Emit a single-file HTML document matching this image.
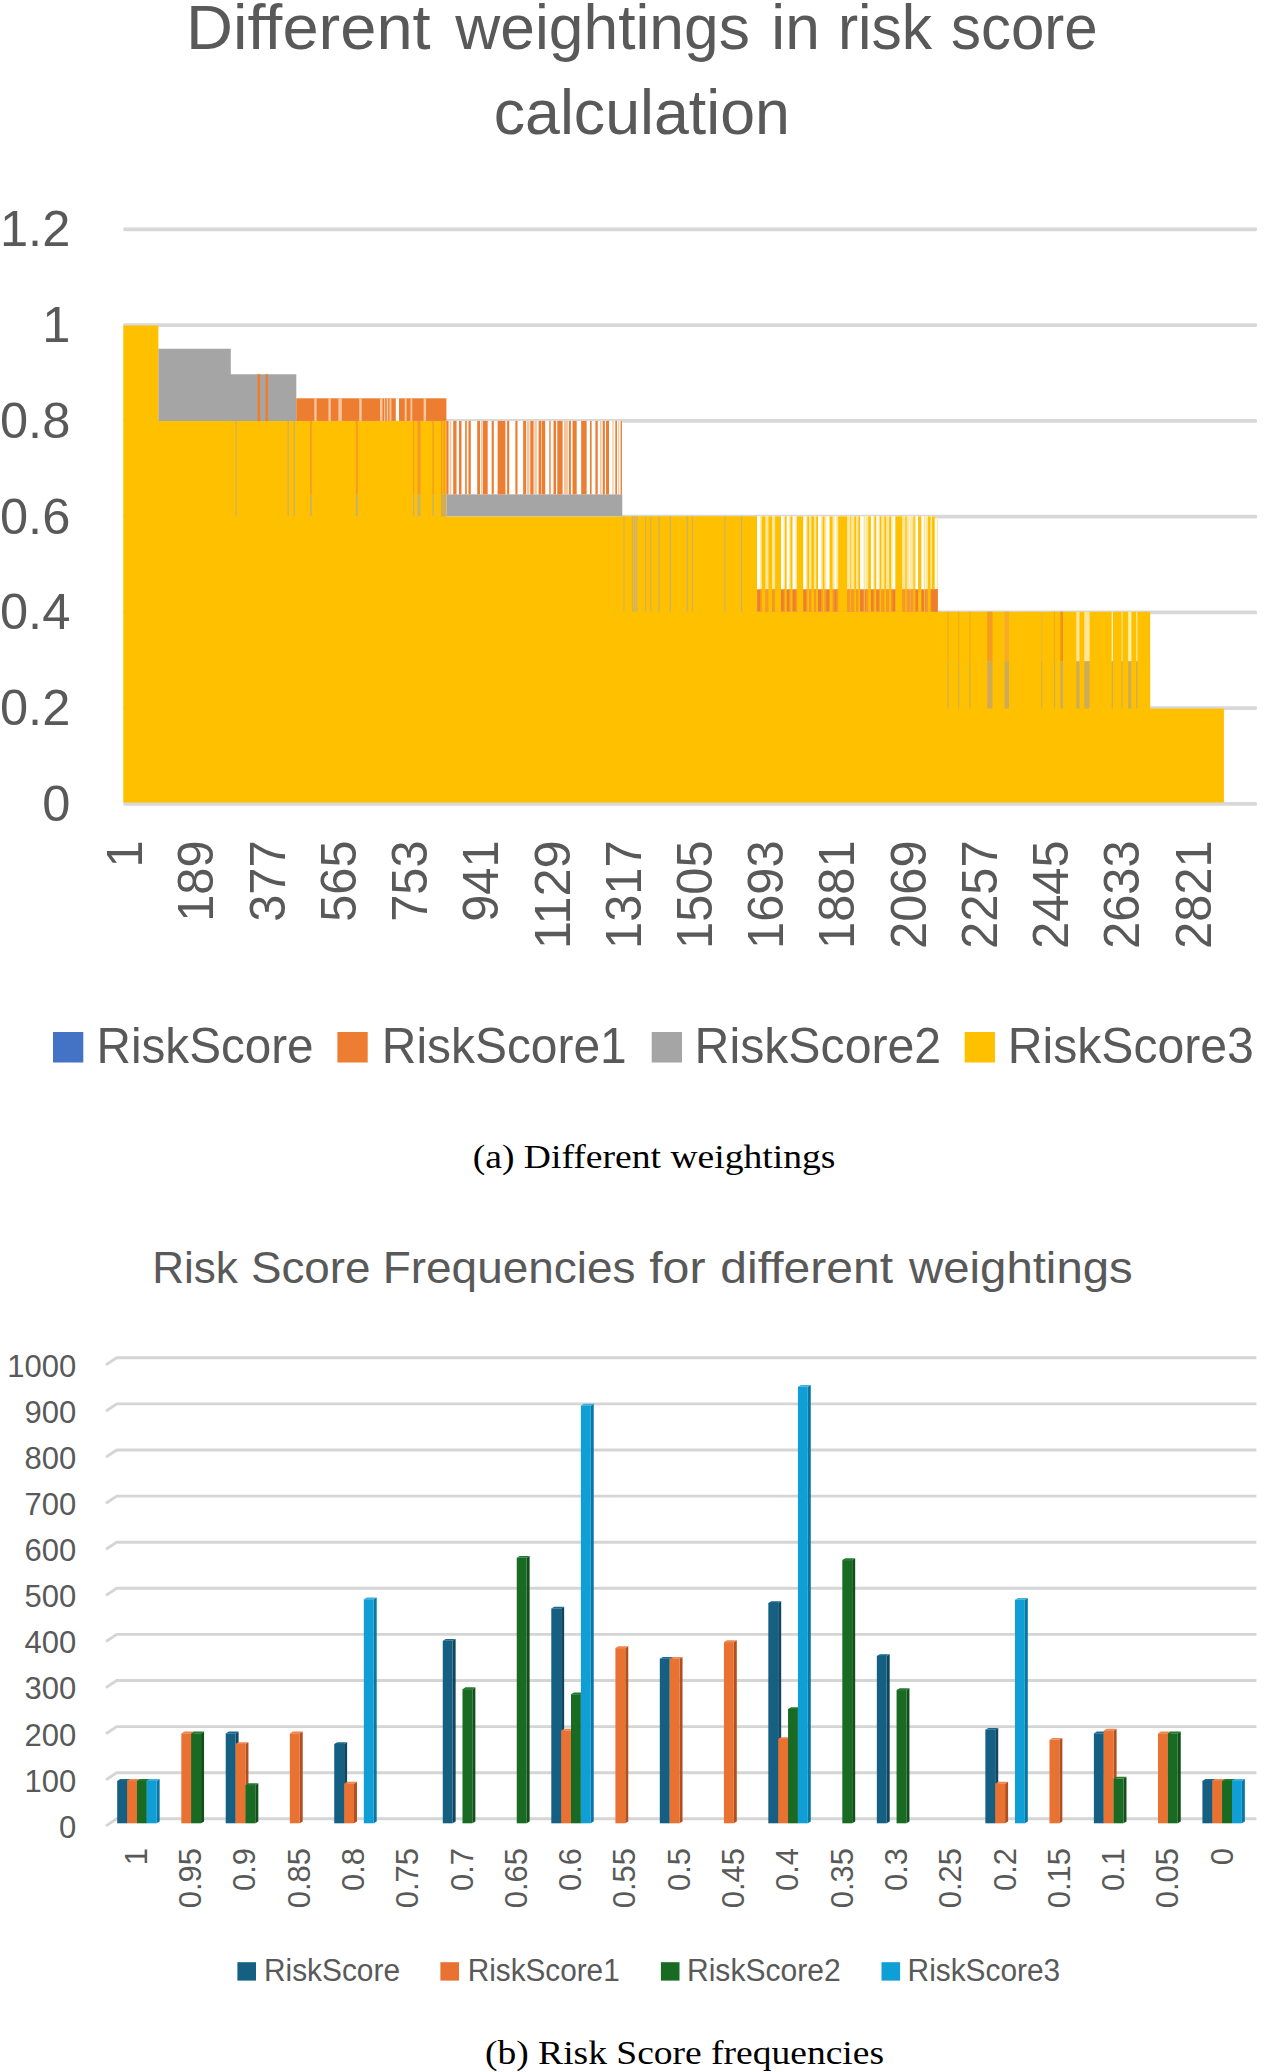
<!DOCTYPE html>
<html lang="en"><head><meta charset="utf-8"><title>Risk score weightings</title>
<style>html,body{margin:0;padding:0;background:#fff}body{width:1267px;height:2072px;overflow:hidden}svg{display:block}.c{font-family:"Liberation Sans",sans-serif;fill:#595959;font-variant-ligatures:none}.s{font-family:"Liberation Serif",serif;fill:#000}</style></head><body>
<svg width="1267" height="2072" viewBox="0 0 1267 2072">
<rect width="1267" height="2072" fill="#fff"/>
<text class="c" x="186.0" y="49.3" font-size="63.8" textLength="244.7" lengthAdjust="spacingAndGlyphs">Different</text>
<text class="c" x="455.3" y="49.3" font-size="63.8" textLength="294.5" lengthAdjust="spacingAndGlyphs">weightings</text>
<text class="c" x="771.3" y="49.3" font-size="63.8" textLength="48.5" lengthAdjust="spacingAndGlyphs">in</text>
<text class="c" x="837.9" y="49.3" font-size="63.8" textLength="94.2" lengthAdjust="spacingAndGlyphs">risk</text>
<text class="c" x="951.0" y="49.3" font-size="63.8" textLength="146.7" lengthAdjust="spacingAndGlyphs">score</text>
<text class="c" x="493.7" y="134.0" font-size="63.8" textLength="296.2" lengthAdjust="spacingAndGlyphs">calculation</text>
<rect x="123.3" y="801.90" width="1133.7" height="3.8" rx="1.2" fill="#d8d8d8"/>
<rect x="123.3" y="706.15" width="1133.7" height="3.8" rx="1.2" fill="#d8d8d8"/>
<rect x="123.3" y="610.40" width="1133.7" height="3.8" rx="1.2" fill="#d8d8d8"/>
<rect x="123.3" y="514.65" width="1133.7" height="3.8" rx="1.2" fill="#d8d8d8"/>
<rect x="123.3" y="418.90" width="1133.7" height="3.8" rx="1.2" fill="#d8d8d8"/>
<rect x="123.3" y="323.15" width="1133.7" height="3.8" rx="1.2" fill="#d8d8d8"/>
<rect x="123.3" y="227.40" width="1133.7" height="3.8" rx="1.2" fill="#d8d8d8"/>
<text class="c" x="70.3" y="246.3" font-size="50.6" text-anchor="end">1.2</text>
<text class="c" x="70.3" y="342.0" font-size="50.6" text-anchor="end">1</text>
<text class="c" x="70.3" y="437.8" font-size="50.6" text-anchor="end">0.8</text>
<text class="c" x="70.3" y="533.5" font-size="50.6" text-anchor="end">0.6</text>
<text class="c" x="70.3" y="629.3" font-size="50.6" text-anchor="end">0.4</text>
<text class="c" x="70.3" y="725.0" font-size="50.6" text-anchor="end">0.2</text>
<text class="c" x="70.3" y="820.8" font-size="50.6" text-anchor="end">0</text>
<path d="M123.3 802.5 V325.5 H158.4 V420.9 H446.4 V516.3 H757.1 V611.7 H1150.2 V708.4 H1223.9 V802.5 Z" fill="#ffc000"/>
<path d="M158.4 420.90 V348.87 H230.8 V374.15 H296.3 V420.90 Z" fill="#a5a5a5"/>
<rect x="257.50" y="374.15" width="2.70" height="46.75" fill="#ed7d31"/>
<rect x="265.50" y="374.15" width="2.50" height="46.75" fill="#ed7d31"/>
<rect x="296.30" y="398.29" width="150.10" height="22.61" fill="#ed7d31"/>
<rect x="314.30" y="398.29" width="2.30" height="22.61" fill="#f6c79f"/>
<rect x="328.40" y="398.29" width="2.40" height="22.61" fill="#f6c79f"/>
<rect x="338.40" y="398.29" width="3.40" height="22.61" fill="#f6c79f"/>
<rect x="359.20" y="398.29" width="2.50" height="22.61" fill="#f6c79f"/>
<rect x="380.00" y="398.29" width="2.50" height="22.61" fill="#f6c79f"/>
<rect x="384.00" y="398.29" width="1.20" height="22.61" fill="#f6c79f"/>
<rect x="386.70" y="398.29" width="1.50" height="22.61" fill="#f6c79f"/>
<rect x="389.50" y="398.29" width="1.90" height="22.61" fill="#f6c79f"/>
<rect x="395.80" y="398.29" width="3.20" height="22.61" fill="#ffffff"/>
<rect x="404.70" y="398.29" width="1.90" height="22.61" fill="#f6c79f"/>
<rect x="410.40" y="398.29" width="1.90" height="22.61" fill="#f6c79f"/>
<rect x="423.60" y="398.29" width="2.50" height="22.61" fill="#f6c79f"/>
<rect x="235.50" y="420.90" width="1.20" height="95.40" fill="#c9b070"/>
<rect x="287.55" y="420.90" width="1.30" height="95.40" fill="#c9b070"/>
<rect x="293.65" y="420.90" width="1.30" height="95.40" fill="#c9b070"/>
<rect x="310.10" y="420.90" width="1.60" height="73.46" fill="#f59a28"/>
<rect x="310.10" y="494.36" width="1.60" height="21.94" fill="#c9b070"/>
<rect x="355.80" y="420.90" width="2.00" height="73.46" fill="#f59a28"/>
<rect x="355.80" y="494.36" width="2.00" height="21.94" fill="#c9b070"/>
<rect x="413.00" y="420.90" width="1.20" height="73.46" fill="#f59a28"/>
<rect x="413.00" y="494.36" width="1.20" height="21.94" fill="#c9b070"/>
<rect x="417.50" y="420.90" width="3.00" height="73.46" fill="#f59a28"/>
<rect x="417.50" y="494.36" width="3.00" height="21.94" fill="#c9b070"/>
<rect x="432.40" y="420.90" width="1.40" height="73.46" fill="#f59a28"/>
<rect x="432.40" y="494.36" width="1.40" height="21.94" fill="#c9b070"/>
<rect x="440.85" y="420.90" width="1.50" height="73.46" fill="#f59a28"/>
<rect x="440.85" y="494.36" width="1.50" height="21.94" fill="#c9b070"/>
<rect x="443.45" y="420.90" width="1.50" height="73.46" fill="#f59a28"/>
<rect x="443.45" y="494.36" width="1.50" height="21.94" fill="#c9b070"/>
<rect x="446.40" y="420.90" width="175.90" height="95.40" fill="#ffffff"/>
<rect x="446.40" y="494.36" width="175.90" height="21.94" fill="#a5a5a5"/>
<rect x="441.00" y="494.36" width="5.40" height="21.94" fill="#d2ad55"/>
<rect x="446.24" y="420.90" width="2.32" height="73.46" fill="#ed7d31"/>
<rect x="449.56" y="420.90" width="1.66" height="73.46" fill="#f6c79f"/>
<rect x="453.21" y="420.90" width="3.32" height="73.46" fill="#ed7d31"/>
<rect x="459.01" y="420.90" width="2.49" height="73.46" fill="#ed7d31"/>
<rect x="465.14" y="420.90" width="1.66" height="73.46" fill="#ed7d31"/>
<rect x="468.46" y="420.90" width="2.32" height="73.46" fill="#ed7d31"/>
<rect x="477.24" y="420.90" width="2.82" height="73.46" fill="#ed7d31"/>
<rect x="481.05" y="420.90" width="0.99" height="73.46" fill="#f6c79f"/>
<rect x="482.71" y="420.90" width="4.97" height="73.46" fill="#ed7d31"/>
<rect x="491.66" y="420.90" width="2.15" height="73.46" fill="#ed7d31"/>
<rect x="497.63" y="420.90" width="7.79" height="73.46" fill="#ed7d31"/>
<rect x="507.08" y="420.90" width="2.15" height="73.46" fill="#ed7d31"/>
<rect x="515.36" y="420.90" width="2.15" height="73.46" fill="#ed7d31"/>
<rect x="523.15" y="420.90" width="2.98" height="73.46" fill="#ed7d31"/>
<rect x="526.97" y="420.90" width="2.49" height="73.46" fill="#f6c79f"/>
<rect x="530.28" y="420.90" width="3.32" height="73.46" fill="#ed7d31"/>
<rect x="534.43" y="420.90" width="2.49" height="73.46" fill="#f6c79f"/>
<rect x="538.57" y="420.90" width="2.82" height="73.46" fill="#ed7d31"/>
<rect x="541.88" y="420.90" width="3.32" height="73.46" fill="#ed7d31"/>
<rect x="549.34" y="420.90" width="1.33" height="73.46" fill="#ed7d31"/>
<rect x="553.49" y="420.90" width="2.49" height="73.46" fill="#ed7d31"/>
<rect x="557.30" y="420.90" width="5.30" height="73.46" fill="#ed7d31"/>
<rect x="563.93" y="420.90" width="3.98" height="73.46" fill="#f6c79f"/>
<rect x="568.90" y="420.90" width="1.99" height="73.46" fill="#ed7d31"/>
<rect x="572.55" y="420.90" width="4.14" height="73.46" fill="#ed7d31"/>
<rect x="581.17" y="420.90" width="5.47" height="73.46" fill="#ed7d31"/>
<rect x="589.95" y="420.90" width="1.66" height="73.46" fill="#ed7d31"/>
<rect x="595.42" y="420.90" width="2.32" height="73.46" fill="#ed7d31"/>
<rect x="599.90" y="420.90" width="1.66" height="73.46" fill="#f6c79f"/>
<rect x="602.72" y="420.90" width="2.15" height="73.46" fill="#ed7d31"/>
<rect x="606.03" y="420.90" width="2.98" height="73.46" fill="#ed7d31"/>
<rect x="612.33" y="420.90" width="1.33" height="73.46" fill="#f6c79f"/>
<rect x="615.31" y="420.90" width="1.66" height="73.46" fill="#ed7d31"/>
<rect x="618.13" y="420.90" width="1.16" height="73.46" fill="#f6c79f"/>
<rect x="620.62" y="420.90" width="1.33" height="73.46" fill="#ed7d31"/>
<rect x="623.46" y="516.30" width="1.00" height="95.40" fill="#c9b070"/>
<rect x="631.84" y="516.30" width="1.40" height="95.40" fill="#c9b070"/>
<rect x="633.99" y="516.30" width="1.40" height="95.40" fill="#c9b070"/>
<rect x="636.29" y="516.30" width="1.10" height="95.40" fill="#c9b070"/>
<rect x="644.88" y="516.30" width="1.10" height="95.40" fill="#c9b070"/>
<rect x="650.24" y="516.30" width="1.10" height="95.40" fill="#c9b070"/>
<rect x="658.51" y="516.30" width="1.20" height="95.40" fill="#c9b070"/>
<rect x="669.79" y="516.30" width="1.20" height="95.40" fill="#c9b070"/>
<rect x="686.69" y="516.30" width="1.20" height="95.40" fill="#c9b070"/>
<rect x="691.84" y="516.30" width="1.10" height="95.40" fill="#c9b070"/>
<rect x="724.32" y="516.30" width="1.10" height="95.40" fill="#c9b070"/>
<rect x="740.91" y="516.30" width="1.20" height="95.40" fill="#c9b070"/>
<rect x="757.10" y="516.30" width="177.60" height="72.98" fill="#ffffff"/>
<rect x="757.10" y="589.28" width="180.90" height="22.42" fill="#ed7d31"/>
<rect x="760.12" y="516.30" width="1.52" height="72.98" fill="#ffe699"/>
<rect x="760.12" y="589.28" width="1.52" height="22.42" fill="#f59a28"/>
<rect x="761.64" y="516.30" width="4.03" height="95.40" fill="#ffc000"/>
<rect x="765.66" y="516.30" width="2.68" height="72.98" fill="#ffe699"/>
<rect x="765.66" y="589.28" width="2.68" height="22.42" fill="#f59a28"/>
<rect x="768.35" y="516.30" width="4.03" height="95.40" fill="#ffc000"/>
<rect x="772.37" y="516.30" width="2.68" height="72.98" fill="#ffe699"/>
<rect x="772.37" y="589.28" width="2.68" height="22.42" fill="#f59a28"/>
<rect x="775.06" y="516.30" width="5.90" height="95.40" fill="#ffc000"/>
<rect x="783.64" y="516.30" width="1.34" height="72.98" fill="#ffe699"/>
<rect x="783.64" y="589.28" width="1.34" height="22.42" fill="#f59a28"/>
<rect x="784.99" y="516.30" width="1.61" height="95.40" fill="#ffc000"/>
<rect x="789.10" y="516.30" width="1.25" height="72.98" fill="#ffe699"/>
<rect x="789.10" y="589.28" width="1.25" height="22.42" fill="#f59a28"/>
<rect x="790.35" y="516.30" width="2.15" height="95.40" fill="#ffc000"/>
<rect x="795.54" y="516.30" width="1.52" height="72.98" fill="#ffe699"/>
<rect x="795.54" y="589.28" width="1.52" height="22.42" fill="#f59a28"/>
<rect x="797.06" y="516.30" width="6.17" height="95.40" fill="#ffc000"/>
<rect x="805.92" y="516.30" width="1.34" height="72.98" fill="#ffe699"/>
<rect x="805.92" y="589.28" width="1.34" height="22.42" fill="#f59a28"/>
<rect x="807.26" y="516.30" width="1.88" height="95.40" fill="#ffc000"/>
<rect x="809.14" y="516.30" width="2.15" height="72.98" fill="#ffe699"/>
<rect x="809.14" y="589.28" width="2.15" height="22.42" fill="#f59a28"/>
<rect x="811.29" y="516.30" width="2.68" height="95.40" fill="#ffc000"/>
<rect x="813.97" y="516.30" width="2.15" height="72.98" fill="#ffe699"/>
<rect x="813.97" y="589.28" width="2.15" height="22.42" fill="#f59a28"/>
<rect x="816.12" y="516.30" width="1.88" height="95.40" fill="#ffc000"/>
<rect x="821.04" y="516.30" width="1.52" height="72.98" fill="#ffe699"/>
<rect x="821.04" y="589.28" width="1.52" height="22.42" fill="#f59a28"/>
<rect x="822.56" y="516.30" width="2.15" height="95.40" fill="#ffc000"/>
<rect x="824.71" y="516.30" width="1.61" height="72.98" fill="#ffe699"/>
<rect x="824.71" y="589.28" width="1.61" height="22.42" fill="#f59a28"/>
<rect x="829.54" y="516.30" width="3.22" height="95.40" fill="#ffc000"/>
<rect x="832.76" y="516.30" width="1.79" height="72.98" fill="#ffe699"/>
<rect x="832.76" y="589.28" width="1.79" height="22.42" fill="#f59a28"/>
<rect x="836.34" y="516.30" width="1.79" height="72.98" fill="#ffe699"/>
<rect x="836.34" y="589.28" width="1.79" height="22.42" fill="#f59a28"/>
<rect x="838.13" y="516.30" width="9.39" height="95.40" fill="#ffc000"/>
<rect x="847.52" y="516.30" width="2.68" height="72.98" fill="#ffe699"/>
<rect x="847.52" y="589.28" width="2.68" height="22.42" fill="#f59a28"/>
<rect x="850.20" y="516.30" width="1.34" height="95.40" fill="#ffc000"/>
<rect x="851.55" y="516.30" width="2.68" height="72.98" fill="#ffe699"/>
<rect x="851.55" y="589.28" width="2.68" height="22.42" fill="#f59a28"/>
<rect x="854.23" y="516.30" width="2.15" height="95.40" fill="#ffc000"/>
<rect x="856.38" y="516.30" width="1.88" height="72.98" fill="#ffe699"/>
<rect x="856.38" y="589.28" width="1.88" height="22.42" fill="#f59a28"/>
<rect x="858.26" y="516.30" width="1.88" height="95.40" fill="#ffc000"/>
<rect x="865.50" y="516.30" width="2.68" height="72.98" fill="#ffe699"/>
<rect x="865.50" y="589.28" width="2.68" height="22.42" fill="#f59a28"/>
<rect x="863.76" y="516.30" width="0.81" height="95.40" fill="#ffd24d"/>
<rect x="868.19" y="516.30" width="2.68" height="95.40" fill="#ffc000"/>
<rect x="873.20" y="516.30" width="1.16" height="72.98" fill="#ffe699"/>
<rect x="873.20" y="589.28" width="1.16" height="22.42" fill="#f59a28"/>
<rect x="874.36" y="516.30" width="1.88" height="95.40" fill="#ffc000"/>
<rect x="878.56" y="516.30" width="1.16" height="72.98" fill="#ffe699"/>
<rect x="878.56" y="589.28" width="1.16" height="22.42" fill="#f59a28"/>
<rect x="879.73" y="516.30" width="1.88" height="95.40" fill="#ffc000"/>
<rect x="881.60" y="516.30" width="2.68" height="72.98" fill="#ffe699"/>
<rect x="881.60" y="589.28" width="2.68" height="22.42" fill="#f59a28"/>
<rect x="884.29" y="516.30" width="2.15" height="95.40" fill="#ffc000"/>
<rect x="886.44" y="516.30" width="2.68" height="72.98" fill="#ffe699"/>
<rect x="886.44" y="589.28" width="2.68" height="22.42" fill="#f59a28"/>
<rect x="889.12" y="516.30" width="2.15" height="95.40" fill="#ffc000"/>
<rect x="891.27" y="516.30" width="1.34" height="72.98" fill="#ffe699"/>
<rect x="891.27" y="589.28" width="1.34" height="22.42" fill="#f59a28"/>
<rect x="895.29" y="516.30" width="7.25" height="95.40" fill="#ffc000"/>
<rect x="902.54" y="516.30" width="2.68" height="72.98" fill="#ffe699"/>
<rect x="902.54" y="589.28" width="2.68" height="22.42" fill="#f59a28"/>
<rect x="905.22" y="516.30" width="1.61" height="95.40" fill="#ffc000"/>
<rect x="906.83" y="516.30" width="2.15" height="72.98" fill="#ffe699"/>
<rect x="906.83" y="589.28" width="2.15" height="22.42" fill="#f59a28"/>
<rect x="911.13" y="516.30" width="2.15" height="72.98" fill="#ffe699"/>
<rect x="911.13" y="589.28" width="2.15" height="22.42" fill="#f59a28"/>
<rect x="909.65" y="516.30" width="0.81" height="95.40" fill="#ffd24d"/>
<rect x="913.27" y="516.30" width="1.61" height="95.40" fill="#ffc000"/>
<rect x="914.88" y="516.30" width="1.07" height="72.98" fill="#ffe699"/>
<rect x="914.88" y="589.28" width="1.07" height="22.42" fill="#f59a28"/>
<rect x="918.11" y="516.30" width="3.22" height="95.40" fill="#ffc000"/>
<rect x="925.80" y="516.30" width="2.24" height="72.98" fill="#ffe699"/>
<rect x="925.80" y="589.28" width="2.24" height="22.42" fill="#f59a28"/>
<rect x="924.28" y="516.30" width="0.81" height="95.40" fill="#ffd24d"/>
<rect x="928.04" y="516.30" width="2.68" height="95.40" fill="#ffc000"/>
<rect x="930.72" y="516.30" width="1.34" height="72.98" fill="#ffe699"/>
<rect x="930.72" y="589.28" width="1.34" height="22.42" fill="#f59a28"/>
<rect x="932.06" y="516.30" width="2.68" height="95.40" fill="#ffc000"/>
<rect x="936.89" y="516.30" width="1.07" height="72.98" fill="#ffe699"/>
<rect x="936.89" y="589.28" width="1.07" height="22.42" fill="#f59a28"/>
<rect x="931.30" y="589.28" width="6.10" height="22.42" fill="#ed7d31"/>
<rect x="947.56" y="611.70" width="1.06" height="49.61" fill="#f5a623"/>
<rect x="947.56" y="661.31" width="1.06" height="47.13" fill="#cdac55"/>
<rect x="958.19" y="611.70" width="1.06" height="49.61" fill="#f5a623"/>
<rect x="958.19" y="661.31" width="1.06" height="47.13" fill="#cdac55"/>
<rect x="969.37" y="611.70" width="1.06" height="49.61" fill="#f5a623"/>
<rect x="969.37" y="661.31" width="1.06" height="47.13" fill="#cdac55"/>
<rect x="987.19" y="611.70" width="5.32" height="49.61" fill="#f39c1f"/>
<rect x="987.19" y="661.31" width="5.32" height="47.13" fill="#cdac55"/>
<rect x="1004.48" y="611.70" width="4.52" height="49.61" fill="#f7ab2a"/>
<rect x="1004.48" y="661.31" width="4.52" height="47.13" fill="#cdac55"/>
<rect x="1041.18" y="611.70" width="1.06" height="49.61" fill="#e8b545"/>
<rect x="1041.18" y="661.31" width="1.06" height="47.13" fill="#cdac55"/>
<rect x="1053.95" y="611.70" width="1.06" height="49.61" fill="#f5a623"/>
<rect x="1053.95" y="661.31" width="1.06" height="47.13" fill="#cdac55"/>
<rect x="1060.33" y="611.70" width="2.66" height="49.61" fill="#ef8f1f"/>
<rect x="1060.33" y="661.31" width="2.66" height="47.13" fill="#cdac55"/>
<rect x="1076.29" y="611.70" width="3.19" height="49.61" fill="#ffe699"/>
<rect x="1076.29" y="661.31" width="3.19" height="47.13" fill="#cdac55"/>
<rect x="1084.27" y="611.70" width="5.32" height="49.61" fill="#ffe699"/>
<rect x="1084.27" y="661.31" width="5.32" height="47.13" fill="#cdac55"/>
<rect x="1111.67" y="611.70" width="1.33" height="49.61" fill="#fff2c4"/>
<rect x="1111.67" y="661.31" width="1.33" height="47.13" fill="#cdac55"/>
<rect x="1121.51" y="611.70" width="1.06" height="49.61" fill="#ffe699"/>
<rect x="1121.51" y="661.31" width="1.06" height="47.13" fill="#cdac55"/>
<rect x="1128.16" y="611.70" width="3.19" height="49.61" fill="#fff2b0"/>
<rect x="1128.16" y="661.31" width="3.19" height="47.13" fill="#cdac55"/>
<rect x="1136.14" y="611.70" width="1.33" height="49.61" fill="#ffe699"/>
<rect x="1136.14" y="661.31" width="1.33" height="47.13" fill="#cdac55"/>
<text class="c" transform="translate(142.1,867.6) rotate(-90)" font-size="49.6" textLength="27.1" lengthAdjust="spacingAndGlyphs">1</text>
<text class="c" transform="translate(213.3,921.8) rotate(-90)" font-size="49.6" textLength="81.3" lengthAdjust="spacingAndGlyphs">189</text>
<text class="c" transform="translate(284.6,921.8) rotate(-90)" font-size="49.6" textLength="81.3" lengthAdjust="spacingAndGlyphs">377</text>
<text class="c" transform="translate(355.8,921.8) rotate(-90)" font-size="49.6" textLength="81.3" lengthAdjust="spacingAndGlyphs">565</text>
<text class="c" transform="translate(427.0,921.8) rotate(-90)" font-size="49.6" textLength="81.3" lengthAdjust="spacingAndGlyphs">753</text>
<text class="c" transform="translate(498.3,921.8) rotate(-90)" font-size="49.6" textLength="81.3" lengthAdjust="spacingAndGlyphs">941</text>
<text class="c" transform="translate(569.5,948.9) rotate(-90)" font-size="49.6" textLength="108.4" lengthAdjust="spacingAndGlyphs">1129</text>
<text class="c" transform="translate(640.7,948.9) rotate(-90)" font-size="49.6" textLength="108.4" lengthAdjust="spacingAndGlyphs">1317</text>
<text class="c" transform="translate(711.9,948.9) rotate(-90)" font-size="49.6" textLength="108.4" lengthAdjust="spacingAndGlyphs">1505</text>
<text class="c" transform="translate(783.2,948.9) rotate(-90)" font-size="49.6" textLength="108.4" lengthAdjust="spacingAndGlyphs">1693</text>
<text class="c" transform="translate(854.4,948.9) rotate(-90)" font-size="49.6" textLength="108.4" lengthAdjust="spacingAndGlyphs">1881</text>
<text class="c" transform="translate(925.6,948.9) rotate(-90)" font-size="49.6" textLength="108.4" lengthAdjust="spacingAndGlyphs">2069</text>
<text class="c" transform="translate(996.9,948.9) rotate(-90)" font-size="49.6" textLength="108.4" lengthAdjust="spacingAndGlyphs">2257</text>
<text class="c" transform="translate(1068.1,948.9) rotate(-90)" font-size="49.6" textLength="108.4" lengthAdjust="spacingAndGlyphs">2445</text>
<text class="c" transform="translate(1139.3,948.9) rotate(-90)" font-size="49.6" textLength="108.4" lengthAdjust="spacingAndGlyphs">2633</text>
<text class="c" transform="translate(1210.6,948.9) rotate(-90)" font-size="49.6" textLength="108.4" lengthAdjust="spacingAndGlyphs">2821</text>
<rect x="53.0" y="1032" width="30.3" height="30.5" fill="#4472c4"/>
<text class="c" x="96.5" y="1062.6" font-size="50.0" textLength="217.1" lengthAdjust="spacingAndGlyphs">RiskScore</text>
<rect x="337.4" y="1032" width="30.3" height="30.5" fill="#ed7d31"/>
<text class="c" x="381.8" y="1062.6" font-size="50.0" textLength="244.9" lengthAdjust="spacingAndGlyphs">RiskScore1</text>
<rect x="651.7" y="1032" width="30.3" height="30.5" fill="#a5a5a5"/>
<text class="c" x="694.6" y="1062.6" font-size="50.0" textLength="246.6" lengthAdjust="spacingAndGlyphs">RiskScore2</text>
<rect x="964.7" y="1032" width="30.3" height="30.5" fill="#ffc000"/>
<text class="c" x="1007.7" y="1062.6" font-size="50.0" textLength="246.1" lengthAdjust="spacingAndGlyphs">RiskScore3</text>
<text class="s" x="472.7" y="1168.0" font-size="34.5" textLength="362.8" lengthAdjust="spacingAndGlyphs">(a) Different weightings</text>
<text class="c" x="152.2" y="1282.5" font-size="44.5" textLength="85.7" lengthAdjust="spacingAndGlyphs">Risk</text>
<text class="c" x="250.9" y="1282.5" font-size="44.5" textLength="119.7" lengthAdjust="spacingAndGlyphs">Score</text>
<text class="c" x="382.7" y="1282.5" font-size="44.5" textLength="252.9" lengthAdjust="spacingAndGlyphs">Frequencies</text>
<text class="c" x="649.2" y="1282.5" font-size="44.5" textLength="56.4" lengthAdjust="spacingAndGlyphs">for</text>
<text class="c" x="720.3" y="1282.5" font-size="44.5" textLength="172.7" lengthAdjust="spacingAndGlyphs">different</text>
<text class="c" x="909.1" y="1282.5" font-size="44.5" textLength="223.6" lengthAdjust="spacingAndGlyphs">weightings</text>
<path d="M106 1825.9 L116.7 1818.8 L1256.4 1818.8" fill="none" stroke="#d5d5d5" stroke-width="2.9" stroke-linejoin="round"/>
<text class="c" x="76.3" y="1837.7" font-size="31" text-anchor="end">0</text>
<path d="M106 1779.8 L116.7 1772.7 L1256.4 1772.7" fill="none" stroke="#d5d5d5" stroke-width="2.9" stroke-linejoin="round"/>
<text class="c" x="76.3" y="1791.6" font-size="31" text-anchor="end">100</text>
<path d="M106 1733.7 L116.7 1726.6 L1256.4 1726.6" fill="none" stroke="#d5d5d5" stroke-width="2.9" stroke-linejoin="round"/>
<text class="c" x="76.3" y="1745.5" font-size="31" text-anchor="end">200</text>
<path d="M106 1687.6 L116.7 1680.5 L1256.4 1680.5" fill="none" stroke="#d5d5d5" stroke-width="2.9" stroke-linejoin="round"/>
<text class="c" x="76.3" y="1699.4" font-size="31" text-anchor="end">300</text>
<path d="M106 1641.5 L116.7 1634.4 L1256.4 1634.4" fill="none" stroke="#d5d5d5" stroke-width="2.9" stroke-linejoin="round"/>
<text class="c" x="76.3" y="1653.3" font-size="31" text-anchor="end">400</text>
<path d="M106 1595.4 L116.7 1588.3 L1256.4 1588.3" fill="none" stroke="#d5d5d5" stroke-width="2.9" stroke-linejoin="round"/>
<text class="c" x="76.3" y="1607.2" font-size="31" text-anchor="end">500</text>
<path d="M106 1549.3 L116.7 1542.2 L1256.4 1542.2" fill="none" stroke="#d5d5d5" stroke-width="2.9" stroke-linejoin="round"/>
<text class="c" x="76.3" y="1561.1" font-size="31" text-anchor="end">600</text>
<path d="M106 1503.2 L116.7 1496.1 L1256.4 1496.1" fill="none" stroke="#d5d5d5" stroke-width="2.9" stroke-linejoin="round"/>
<text class="c" x="76.3" y="1515.0" font-size="31" text-anchor="end">700</text>
<path d="M106 1457.1 L116.7 1450.0 L1256.4 1450.0" fill="none" stroke="#d5d5d5" stroke-width="2.9" stroke-linejoin="round"/>
<text class="c" x="76.3" y="1468.9" font-size="31" text-anchor="end">800</text>
<path d="M106 1411.0 L116.7 1403.9 L1256.4 1403.9" fill="none" stroke="#d5d5d5" stroke-width="2.9" stroke-linejoin="round"/>
<text class="c" x="76.3" y="1422.8" font-size="31" text-anchor="end">900</text>
<path d="M106 1364.9 L116.7 1357.8 L1256.4 1357.8" fill="none" stroke="#d5d5d5" stroke-width="2.9" stroke-linejoin="round"/>
<text class="c" x="76.3" y="1376.7" font-size="31" text-anchor="end">1000</text>
<path d="M127.07 1823.30 l3.0 -1.8 V1779.09 l-3.0 1.8 Z" fill="#0f4761"/>
<path d="M117.20 1780.89 l3.0 -1.8 h9.87 l-3.0 1.8 Z" fill="#1a6a8e"/>
<rect x="117.20" y="1780.89" width="9.87" height="42.41" fill="#156082"/>
<path d="M136.93 1823.30 l3.0 -1.8 V1779.09 l-3.0 1.8 Z" fill="#b0501f"/>
<path d="M127.07 1780.89 l3.0 -1.8 h9.87 l-3.0 1.8 Z" fill="#ee8450"/>
<rect x="127.07" y="1780.89" width="9.87" height="42.41" fill="#e97132"/>
<path d="M146.80 1823.30 l3.0 -1.8 V1779.09 l-3.0 1.8 Z" fill="#124f1a"/>
<path d="M136.93 1780.89 l3.0 -1.8 h9.87 l-3.0 1.8 Z" fill="#237a2f"/>
<rect x="136.93" y="1780.89" width="9.87" height="42.41" fill="#196b24"/>
<path d="M156.66 1823.30 l3.0 -1.8 V1779.09 l-3.0 1.8 Z" fill="#0b76a0"/>
<path d="M146.80 1780.89 l3.0 -1.8 h9.87 l-3.0 1.8 Z" fill="#3cb0dd"/>
<rect x="146.80" y="1780.89" width="9.87" height="42.41" fill="#0f9ed5"/>
<path d="M191.19 1823.30 l3.0 -1.8 V1731.61 l-3.0 1.8 Z" fill="#b0501f"/>
<path d="M181.33 1733.40 l3.0 -1.8 h9.87 l-3.0 1.8 Z" fill="#ee8450"/>
<rect x="181.33" y="1733.40" width="9.87" height="89.89" fill="#e97132"/>
<path d="M201.06 1823.30 l3.0 -1.8 V1731.61 l-3.0 1.8 Z" fill="#124f1a"/>
<path d="M191.19 1733.40 l3.0 -1.8 h9.87 l-3.0 1.8 Z" fill="#237a2f"/>
<rect x="191.19" y="1733.40" width="9.87" height="89.89" fill="#196b24"/>
<path d="M235.59 1823.30 l3.0 -1.8 V1731.61 l-3.0 1.8 Z" fill="#0f4761"/>
<path d="M225.72 1733.40 l3.0 -1.8 h9.87 l-3.0 1.8 Z" fill="#1a6a8e"/>
<rect x="225.72" y="1733.40" width="9.87" height="89.89" fill="#156082"/>
<path d="M245.45 1823.30 l3.0 -1.8 V1742.21 l-3.0 1.8 Z" fill="#b0501f"/>
<path d="M235.59 1744.01 l3.0 -1.8 h9.87 l-3.0 1.8 Z" fill="#ee8450"/>
<rect x="235.59" y="1744.01" width="9.87" height="79.29" fill="#e97132"/>
<path d="M255.32 1823.30 l3.0 -1.8 V1783.24 l-3.0 1.8 Z" fill="#124f1a"/>
<path d="M245.45 1785.04 l3.0 -1.8 h9.87 l-3.0 1.8 Z" fill="#237a2f"/>
<rect x="245.45" y="1785.04" width="9.87" height="38.26" fill="#196b24"/>
<path d="M299.71 1823.30 l3.0 -1.8 V1731.61 l-3.0 1.8 Z" fill="#b0501f"/>
<path d="M289.85 1733.40 l3.0 -1.8 h9.87 l-3.0 1.8 Z" fill="#ee8450"/>
<rect x="289.85" y="1733.40" width="9.87" height="89.89" fill="#e97132"/>
<path d="M344.11 1823.30 l3.0 -1.8 V1742.21 l-3.0 1.8 Z" fill="#0f4761"/>
<path d="M334.24 1744.01 l3.0 -1.8 h9.87 l-3.0 1.8 Z" fill="#1a6a8e"/>
<rect x="334.24" y="1744.01" width="9.87" height="79.29" fill="#156082"/>
<path d="M353.97 1823.30 l3.0 -1.8 V1781.85 l-3.0 1.8 Z" fill="#b0501f"/>
<path d="M344.11 1783.65 l3.0 -1.8 h9.87 l-3.0 1.8 Z" fill="#ee8450"/>
<rect x="344.11" y="1783.65" width="9.87" height="39.65" fill="#e97132"/>
<path d="M373.70 1823.30 l3.0 -1.8 V1597.45 l-3.0 1.8 Z" fill="#0b76a0"/>
<path d="M363.84 1599.25 l3.0 -1.8 h9.87 l-3.0 1.8 Z" fill="#3cb0dd"/>
<rect x="363.84" y="1599.25" width="9.87" height="224.05" fill="#0f9ed5"/>
<path d="M452.63 1823.30 l3.0 -1.8 V1638.94 l-3.0 1.8 Z" fill="#0f4761"/>
<path d="M442.76 1640.74 l3.0 -1.8 h9.87 l-3.0 1.8 Z" fill="#1a6a8e"/>
<rect x="442.76" y="1640.74" width="9.87" height="182.56" fill="#156082"/>
<path d="M472.36 1823.30 l3.0 -1.8 V1687.35 l-3.0 1.8 Z" fill="#124f1a"/>
<path d="M462.49 1689.15 l3.0 -1.8 h9.87 l-3.0 1.8 Z" fill="#237a2f"/>
<rect x="462.49" y="1689.15" width="9.87" height="134.15" fill="#196b24"/>
<path d="M526.62 1823.30 l3.0 -1.8 V1555.96 l-3.0 1.8 Z" fill="#124f1a"/>
<path d="M516.75 1557.76 l3.0 -1.8 h9.87 l-3.0 1.8 Z" fill="#237a2f"/>
<rect x="516.75" y="1557.76" width="9.87" height="265.54" fill="#196b24"/>
<path d="M561.15 1823.30 l3.0 -1.8 V1606.67 l-3.0 1.8 Z" fill="#0f4761"/>
<path d="M551.28 1608.47 l3.0 -1.8 h9.87 l-3.0 1.8 Z" fill="#1a6a8e"/>
<rect x="551.28" y="1608.47" width="9.87" height="214.83" fill="#156082"/>
<path d="M571.01 1823.30 l3.0 -1.8 V1728.84 l-3.0 1.8 Z" fill="#b0501f"/>
<path d="M561.15 1730.64 l3.0 -1.8 h9.87 l-3.0 1.8 Z" fill="#ee8450"/>
<rect x="561.15" y="1730.64" width="9.87" height="92.66" fill="#e97132"/>
<path d="M580.88 1823.30 l3.0 -1.8 V1692.42 l-3.0 1.8 Z" fill="#124f1a"/>
<path d="M571.01 1694.22 l3.0 -1.8 h9.87 l-3.0 1.8 Z" fill="#237a2f"/>
<rect x="571.01" y="1694.22" width="9.87" height="129.08" fill="#196b24"/>
<path d="M590.74 1823.30 l3.0 -1.8 V1403.83 l-3.0 1.8 Z" fill="#0b76a0"/>
<path d="M580.88 1405.63 l3.0 -1.8 h9.87 l-3.0 1.8 Z" fill="#3cb0dd"/>
<rect x="580.88" y="1405.63" width="9.87" height="417.67" fill="#0f9ed5"/>
<path d="M625.27 1823.30 l3.0 -1.8 V1646.32 l-3.0 1.8 Z" fill="#b0501f"/>
<path d="M615.41 1648.12 l3.0 -1.8 h9.87 l-3.0 1.8 Z" fill="#ee8450"/>
<rect x="615.41" y="1648.12" width="9.87" height="175.18" fill="#e97132"/>
<path d="M669.67 1823.30 l3.0 -1.8 V1656.92 l-3.0 1.8 Z" fill="#0f4761"/>
<path d="M659.80 1658.72 l3.0 -1.8 h9.87 l-3.0 1.8 Z" fill="#1a6a8e"/>
<rect x="659.80" y="1658.72" width="9.87" height="164.58" fill="#156082"/>
<path d="M679.53 1823.30 l3.0 -1.8 V1656.92 l-3.0 1.8 Z" fill="#b0501f"/>
<path d="M669.67 1658.72 l3.0 -1.8 h9.87 l-3.0 1.8 Z" fill="#ee8450"/>
<rect x="669.67" y="1658.72" width="9.87" height="164.58" fill="#e97132"/>
<path d="M733.79 1823.30 l3.0 -1.8 V1640.33 l-3.0 1.8 Z" fill="#b0501f"/>
<path d="M723.93 1642.13 l3.0 -1.8 h9.87 l-3.0 1.8 Z" fill="#ee8450"/>
<rect x="723.93" y="1642.13" width="9.87" height="181.17" fill="#e97132"/>
<path d="M778.19 1823.30 l3.0 -1.8 V1601.14 l-3.0 1.8 Z" fill="#0f4761"/>
<path d="M768.32 1602.94 l3.0 -1.8 h9.87 l-3.0 1.8 Z" fill="#1a6a8e"/>
<rect x="768.32" y="1602.94" width="9.87" height="220.36" fill="#156082"/>
<path d="M788.05 1823.30 l3.0 -1.8 V1737.14 l-3.0 1.8 Z" fill="#b0501f"/>
<path d="M778.19 1738.94 l3.0 -1.8 h9.87 l-3.0 1.8 Z" fill="#ee8450"/>
<rect x="778.19" y="1738.94" width="9.87" height="84.36" fill="#e97132"/>
<path d="M797.92 1823.30 l3.0 -1.8 V1707.17 l-3.0 1.8 Z" fill="#124f1a"/>
<path d="M788.05 1708.97 l3.0 -1.8 h9.87 l-3.0 1.8 Z" fill="#237a2f"/>
<rect x="788.05" y="1708.97" width="9.87" height="114.33" fill="#196b24"/>
<path d="M807.78 1823.30 l3.0 -1.8 V1384.93 l-3.0 1.8 Z" fill="#0b76a0"/>
<path d="M797.92 1386.73 l3.0 -1.8 h9.87 l-3.0 1.8 Z" fill="#3cb0dd"/>
<rect x="797.92" y="1386.73" width="9.87" height="436.57" fill="#0f9ed5"/>
<path d="M852.18 1823.30 l3.0 -1.8 V1558.27 l-3.0 1.8 Z" fill="#124f1a"/>
<path d="M842.31 1560.07 l3.0 -1.8 h9.87 l-3.0 1.8 Z" fill="#237a2f"/>
<rect x="842.31" y="1560.07" width="9.87" height="263.23" fill="#196b24"/>
<path d="M886.71 1823.30 l3.0 -1.8 V1654.16 l-3.0 1.8 Z" fill="#0f4761"/>
<path d="M876.84 1655.96 l3.0 -1.8 h9.87 l-3.0 1.8 Z" fill="#1a6a8e"/>
<rect x="876.84" y="1655.96" width="9.87" height="167.34" fill="#156082"/>
<path d="M906.44 1823.30 l3.0 -1.8 V1688.27 l-3.0 1.8 Z" fill="#124f1a"/>
<path d="M896.57 1690.07 l3.0 -1.8 h9.87 l-3.0 1.8 Z" fill="#237a2f"/>
<rect x="896.57" y="1690.07" width="9.87" height="133.23" fill="#196b24"/>
<path d="M995.23 1823.30 l3.0 -1.8 V1727.92 l-3.0 1.8 Z" fill="#0f4761"/>
<path d="M985.36 1729.72 l3.0 -1.8 h9.87 l-3.0 1.8 Z" fill="#1a6a8e"/>
<rect x="985.36" y="1729.72" width="9.87" height="93.58" fill="#156082"/>
<path d="M1005.09 1823.30 l3.0 -1.8 V1781.85 l-3.0 1.8 Z" fill="#b0501f"/>
<path d="M995.23 1783.65 l3.0 -1.8 h9.87 l-3.0 1.8 Z" fill="#ee8450"/>
<rect x="995.23" y="1783.65" width="9.87" height="39.65" fill="#e97132"/>
<path d="M1024.82 1823.30 l3.0 -1.8 V1597.91 l-3.0 1.8 Z" fill="#0b76a0"/>
<path d="M1014.96 1599.71 l3.0 -1.8 h9.87 l-3.0 1.8 Z" fill="#3cb0dd"/>
<rect x="1014.96" y="1599.71" width="9.87" height="223.59" fill="#0f9ed5"/>
<path d="M1059.35 1823.30 l3.0 -1.8 V1738.06 l-3.0 1.8 Z" fill="#b0501f"/>
<path d="M1049.49 1739.86 l3.0 -1.8 h9.87 l-3.0 1.8 Z" fill="#ee8450"/>
<rect x="1049.49" y="1739.86" width="9.87" height="83.44" fill="#e97132"/>
<path d="M1103.75 1823.30 l3.0 -1.8 V1731.61 l-3.0 1.8 Z" fill="#0f4761"/>
<path d="M1093.88 1733.40 l3.0 -1.8 h9.87 l-3.0 1.8 Z" fill="#1a6a8e"/>
<rect x="1093.88" y="1733.40" width="9.87" height="89.89" fill="#156082"/>
<path d="M1113.61 1823.30 l3.0 -1.8 V1728.84 l-3.0 1.8 Z" fill="#b0501f"/>
<path d="M1103.75 1730.64 l3.0 -1.8 h9.87 l-3.0 1.8 Z" fill="#ee8450"/>
<rect x="1103.75" y="1730.64" width="9.87" height="92.66" fill="#e97132"/>
<path d="M1123.48 1823.30 l3.0 -1.8 V1776.78 l-3.0 1.8 Z" fill="#124f1a"/>
<path d="M1113.61 1778.58 l3.0 -1.8 h9.87 l-3.0 1.8 Z" fill="#237a2f"/>
<rect x="1113.61" y="1778.58" width="9.87" height="44.72" fill="#196b24"/>
<path d="M1167.87 1823.30 l3.0 -1.8 V1731.61 l-3.0 1.8 Z" fill="#b0501f"/>
<path d="M1158.01 1733.40 l3.0 -1.8 h9.87 l-3.0 1.8 Z" fill="#ee8450"/>
<rect x="1158.01" y="1733.40" width="9.87" height="89.89" fill="#e97132"/>
<path d="M1177.74 1823.30 l3.0 -1.8 V1731.61 l-3.0 1.8 Z" fill="#124f1a"/>
<path d="M1167.87 1733.40 l3.0 -1.8 h9.87 l-3.0 1.8 Z" fill="#237a2f"/>
<rect x="1167.87" y="1733.40" width="9.87" height="89.89" fill="#196b24"/>
<path d="M1212.27 1823.30 l3.0 -1.8 V1779.09 l-3.0 1.8 Z" fill="#0f4761"/>
<path d="M1202.40 1780.89 l3.0 -1.8 h9.87 l-3.0 1.8 Z" fill="#1a6a8e"/>
<rect x="1202.40" y="1780.89" width="9.87" height="42.41" fill="#156082"/>
<path d="M1222.13 1823.30 l3.0 -1.8 V1779.09 l-3.0 1.8 Z" fill="#b0501f"/>
<path d="M1212.27 1780.89 l3.0 -1.8 h9.87 l-3.0 1.8 Z" fill="#ee8450"/>
<rect x="1212.27" y="1780.89" width="9.87" height="42.41" fill="#e97132"/>
<path d="M1232.00 1823.30 l3.0 -1.8 V1779.09 l-3.0 1.8 Z" fill="#124f1a"/>
<path d="M1222.13 1780.89 l3.0 -1.8 h9.87 l-3.0 1.8 Z" fill="#237a2f"/>
<rect x="1222.13" y="1780.89" width="9.87" height="42.41" fill="#196b24"/>
<path d="M1241.86 1823.30 l3.0 -1.8 V1779.09 l-3.0 1.8 Z" fill="#0b76a0"/>
<path d="M1232.00 1780.89 l3.0 -1.8 h9.87 l-3.0 1.8 Z" fill="#3cb0dd"/>
<rect x="1232.00" y="1780.89" width="9.87" height="42.41" fill="#0f9ed5"/>
<text class="c" transform="translate(146.7,1848) rotate(-90)" font-size="31" text-anchor="end">1</text>
<text class="c" transform="translate(201.0,1848) rotate(-90)" font-size="31" text-anchor="end">0.95</text>
<text class="c" transform="translate(255.3,1848) rotate(-90)" font-size="31" text-anchor="end">0.9</text>
<text class="c" transform="translate(309.6,1848) rotate(-90)" font-size="31" text-anchor="end">0.85</text>
<text class="c" transform="translate(363.9,1848) rotate(-90)" font-size="31" text-anchor="end">0.8</text>
<text class="c" transform="translate(418.2,1848) rotate(-90)" font-size="31" text-anchor="end">0.75</text>
<text class="c" transform="translate(472.5,1848) rotate(-90)" font-size="31" text-anchor="end">0.7</text>
<text class="c" transform="translate(526.8,1848) rotate(-90)" font-size="31" text-anchor="end">0.65</text>
<text class="c" transform="translate(581.1,1848) rotate(-90)" font-size="31" text-anchor="end">0.6</text>
<text class="c" transform="translate(635.4,1848) rotate(-90)" font-size="31" text-anchor="end">0.55</text>
<text class="c" transform="translate(689.7,1848) rotate(-90)" font-size="31" text-anchor="end">0.5</text>
<text class="c" transform="translate(744.0,1848) rotate(-90)" font-size="31" text-anchor="end">0.45</text>
<text class="c" transform="translate(798.3,1848) rotate(-90)" font-size="31" text-anchor="end">0.4</text>
<text class="c" transform="translate(852.6,1848) rotate(-90)" font-size="31" text-anchor="end">0.35</text>
<text class="c" transform="translate(906.9,1848) rotate(-90)" font-size="31" text-anchor="end">0.3</text>
<text class="c" transform="translate(961.2,1848) rotate(-90)" font-size="31" text-anchor="end">0.25</text>
<text class="c" transform="translate(1015.5,1848) rotate(-90)" font-size="31" text-anchor="end">0.2</text>
<text class="c" transform="translate(1069.8,1848) rotate(-90)" font-size="31" text-anchor="end">0.15</text>
<text class="c" transform="translate(1124.1,1848) rotate(-90)" font-size="31" text-anchor="end">0.1</text>
<text class="c" transform="translate(1178.4,1848) rotate(-90)" font-size="31" text-anchor="end">0.05</text>
<text class="c" transform="translate(1232.7,1848) rotate(-90)" font-size="31" text-anchor="end">0</text>
<rect x="237.4" y="1962.2" width="18.6" height="18.4" fill="#156082"/>
<text class="c" x="264.0" y="1981.3" font-size="31.0" textLength="136.0" lengthAdjust="spacingAndGlyphs">RiskScore</text>
<rect x="440.4" y="1962.2" width="18.6" height="18.4" fill="#e97132"/>
<text class="c" x="467.7" y="1981.3" font-size="31.0" textLength="152.0" lengthAdjust="spacingAndGlyphs">RiskScore1</text>
<rect x="660.9" y="1962.2" width="18.6" height="18.4" fill="#196b24"/>
<text class="c" x="687.0" y="1981.3" font-size="31.0" textLength="153.6" lengthAdjust="spacingAndGlyphs">RiskScore2</text>
<rect x="881.5" y="1962.2" width="18.6" height="18.4" fill="#0f9ed5"/>
<text class="c" x="907.6" y="1981.3" font-size="31.0" textLength="152.6" lengthAdjust="spacingAndGlyphs">RiskScore3</text>
<text class="s" x="485.0" y="2063.8" font-size="34.5" textLength="399.0" lengthAdjust="spacingAndGlyphs">(b) Risk Score frequencies</text>
</svg></body></html>
